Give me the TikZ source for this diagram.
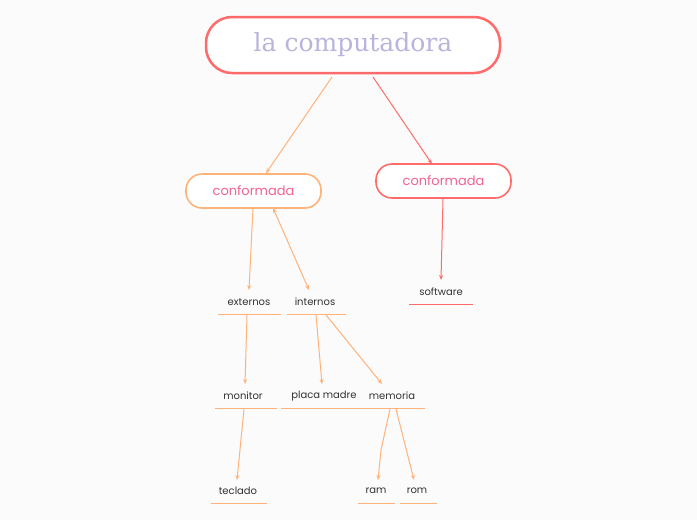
\documentclass[tikz,border=0pt]{standalone}
\usepackage{fontspec}
\setmainfont{Poppins}
\newfontfamily\titlefont{DejaVu Serif}
\usetikzlibrary{arrows.meta}
\definecolor{ored}{HTML}{FF6B6B}
\definecolor{oorg}{HTML}{FFB27A}
\definecolor{opink}{HTML}{F06292}
\definecolor{lav}{HTML}{B8B4DC}
\definecolor{txt}{HTML}{333333}
\definecolor{bg}{HTML}{FBFBFB}
\begin{document}
\begin{tikzpicture}[x=1pt,y=-1pt,
  lbl/.style={font=\fontsize{10}{12}\selectfont, text=txt, inner sep=0pt},
  ul/.style={line width=1pt},
  edge/.style={line width=1pt,-{Stealth[length=5pt,width=4pt]}},
  conf/.style={draw, line width=1.6pt, rounded corners=16pt, fill=white, text=opink, font=\fontsize{13}{15}\selectfont, minimum height=34pt, minimum width=135pt, inner sep=0pt}]
\fill[bg] (0,0) rectangle (697,520);
\useasboundingbox (0,0) rectangle (697,520);
\node[draw=ored, line width=2.5pt, rounded corners=26pt, fill=white, minimum width=294pt, minimum height=56pt, text=lav, font=\titlefont\fontsize{25}{28}\selectfont] (root) at (353,45) {la computadora};
\node[conf, draw=oorg] (c1) at (253.5,191) {conformada};
\node[conf, draw=ored] (c2) at (443.5,181) {conformada};
\node[lbl] (ext) at (249,302) {externos};
\node[lbl] (int) at (315,302) {internos};
\node[lbl] (sw) at (441,292) {software};
\node[lbl] (mon) at (243,396) {monitor};
\node[lbl] (pm) at (324,396) {placa madre};
\node[lbl] (mem) at (392,396) {memoria};
\node[lbl] (tec) at (238,491) {teclado};
\node[lbl] (ram) at (376,491) {ram};
\node[lbl] (rom) at (417,491) {rom};
\begin{scope}[oorg]
\draw[ul] (218,314) -- (281,314);
\draw[ul] (287,314) -- (346,314);
\draw[ul] (215,408) -- (277,408);
\draw[ul] (281,408) -- (364,408);
\draw[ul] (364,408) -- (425,408);
\draw[ul] (211,503) -- (267,503);
\draw[ul] (358,503) -- (395,503);
\draw[ul] (400,503) -- (437,503);
\end{scope}
\draw[ul, ored] (409,304) -- (473,304);
\coordinate (r1) at (332,77); \coordinate (r2) at (373,77);
\draw[edge, oorg] (r1) -- (c1.north -| 266,0);
\draw[edge, ored] (r2) -- (432,164);
\draw[edge, oorg] (253,208) -- (249,290);
\draw[edge, oorg, {Stealth[length=5pt,width=4pt]}-{Stealth[length=5pt,width=4pt]}] (273,208) -- (309,290);
\draw[edge, ored] (443,199) -- (441,280);
\draw[edge, oorg] (247,315) -- (245,384);
\draw[edge, oorg] (316,315) -- (322,384);
\draw[edge, oorg] (326,315) -- (382,384);
\draw[edge, oorg] (244,409) -- (237,480);
\draw[edge, oorg] (390,409) -- (381,450) -- (378,480);
\draw[edge, oorg] (396,409) -- (414,480);
\end{tikzpicture}
\end{document}
